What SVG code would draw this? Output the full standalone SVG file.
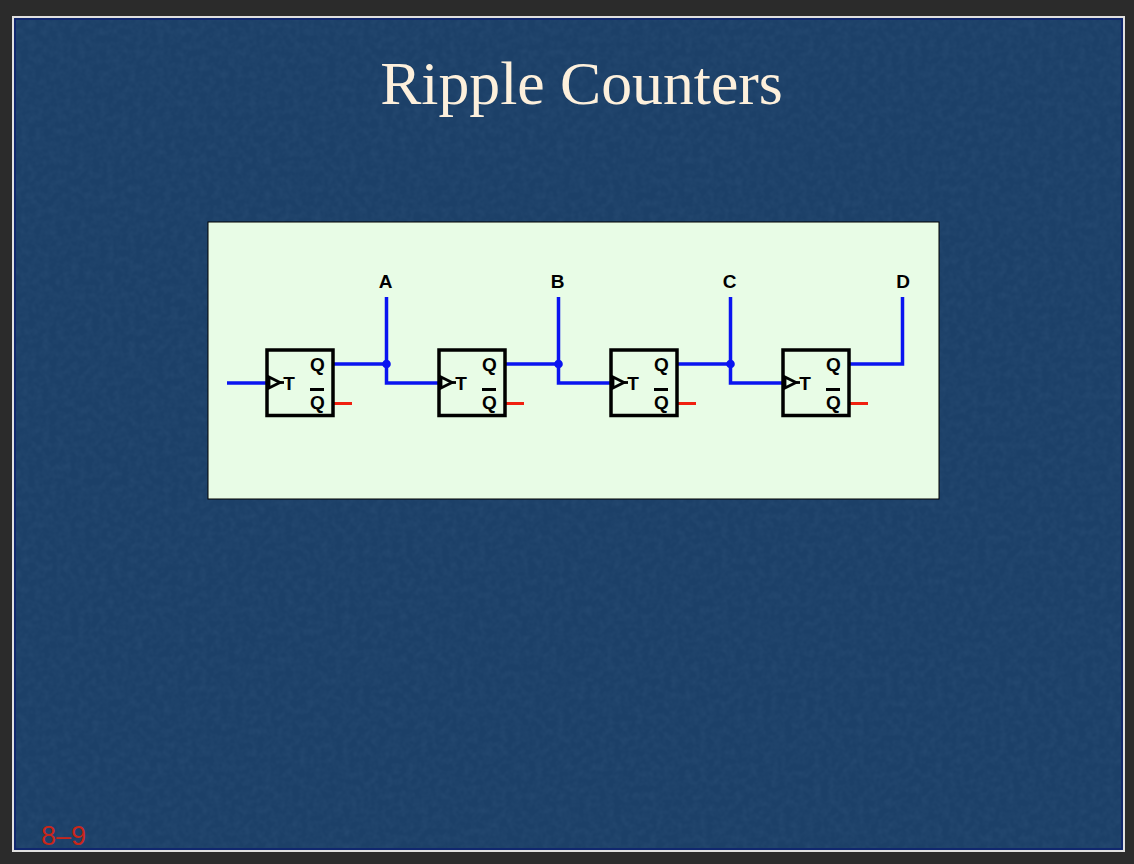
<svg xmlns="http://www.w3.org/2000/svg" xmlns:xlink="http://www.w3.org/1999/xlink" width="1134" height="864" viewBox="0 0 1134 864">
<style>
.title{font-family:"Liberation Serif",serif;font-size:61.700px;fill:#fdf0dc}
.page{font-family:"Liberation Sans",sans-serif;font-size:27px;fill:#c9261a}
.lbl{font-family:"Liberation Sans",sans-serif;font-weight:bold;font-size:19px;fill:#000;text-anchor:middle}
.box{fill:none;stroke:#000;stroke-width:3.500}
.wire{fill:none;stroke:#0a14f0;stroke-width:3.500}
.red{fill:none;stroke:#f0200f;stroke-width:3.200}
.clk{fill:none;stroke:#000;stroke-width:2.800}
.bar{stroke:#000;stroke-width:3}
</style>
<defs>
<filter id="tex" x="0" y="0" width="100%" height="100%">
<feTurbulence type="fractalNoise" baseFrequency="0.14" numOctaves="2" seed="4"/>
<feColorMatrix type="matrix" values="0 0 0 0 0.2  0 0 0 0 0.35  0 0 0 0 0.55  0.9 0 0 0 -0.3"/>
</filter>
<g id="ff">
<rect class="box" x="0" y="0" width="66" height="65.500"/>
<path class="clk" d="M2 27L13 32.500L2 38Z"/>
<path class="clk" d="M13 32.500H17"/>
<text class="lbl" x="22" y="40">T</text>
<text class="lbl" x="50.500" y="20.500">Q</text>
<path class="bar" d="M43 39.500H57"/>
<text class="lbl" x="50.500" y="58.500">Q</text>
</g>
</defs>
<rect width="1134" height="864" fill="#2b2b2b"/>
<rect x="13" y="17" width="1111" height="834" fill="#1c4068" stroke="#e0e0e0" stroke-width="2"/>
<rect x="15" y="19" width="1107" height="830" fill="none" stroke="#0c1f70" stroke-width="1.500"/>
<rect x="16" y="20" width="1105" height="828" filter="url(#tex)" opacity="0.16"/>
<text class="title" x="581.500" y="103.500" text-anchor="middle">Ripple Counters</text>
<text class="page" x="41" y="845">8–9</text>
<rect id="panel" x="208" y="222" width="731" height="277" fill="#e8fce6" stroke="#000" stroke-width="1"/>
<g id="connectors">
<path class="wire" d="M227 383H267"/>
<path class="wire" d="M333 364H386.500M386.500 297V383H439"/>
<path class="wire" d="M505 364H558.500M558.500 297V383H611"/>
<path class="wire" d="M677 364H730.500M730.500 297V383H783"/>
<path class="wire" d="M849 364H902.500V297"/>
<circle cx="386.500" cy="364" r="4.300" fill="#0a14f0"/>
<circle cx="558.500" cy="364" r="4.300" fill="#0a14f0"/>
<circle cx="730.500" cy="364" r="4.300" fill="#0a14f0"/>
<path class="red" d="M333 403.500H352M505 403.500H524M677 403.500H696M849 403.500H868"/>
</g>
<g id="ff1" transform="translate(267,350)"><use xlink:href="#ff" href="#ff"/></g>
<g id="ff2" transform="translate(439,350)"><use xlink:href="#ff" href="#ff"/></g>
<g id="ff3" transform="translate(611,350)"><use xlink:href="#ff" href="#ff"/></g>
<g id="ff4" transform="translate(783,350)"><use xlink:href="#ff" href="#ff"/></g>
<g id="label-a"><text class="lbl" x="385.500" y="288">A</text></g>
<g id="label-b"><text class="lbl" x="557.500" y="288">B</text></g>
<g id="label-c"><text class="lbl" x="729.500" y="288">C</text></g>
<g id="label-d"><text class="lbl" x="903" y="288">D</text></g>
</svg>
